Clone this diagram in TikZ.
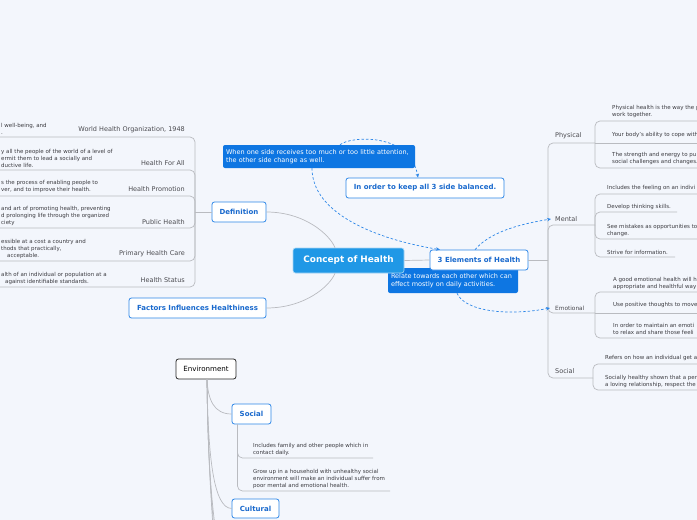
\documentclass[tikz,border=0pt]{standalone}
\usepackage{fontspec}
\setmainfont{DejaVu Sans}
\usetikzlibrary{arrows.meta,backgrounds}
\definecolor{bgblue}{RGB}{243,246,252}
\definecolor{mainblue}{RGB}{32,152,230}
\definecolor{noteblue}{RGB}{14,118,226}
\definecolor{topicblue}{RGB}{45,135,232}
\definecolor{topictext}{RGB}{25,105,205}
\definecolor{linegray}{RGB}{185,187,192}
\definecolor{subgray}{RGB}{75,75,80}
\definecolor{descgray}{RGB}{60,60,65}
\tikzset{
    topic/.style={draw=topicblue, fill=white, rounded corners=2.5pt, line width=0.8pt,
        text=topictext, font=\fontsize{7}{8}\selectfont\bfseries, inner sep=0pt},
    note/.style={fill=noteblue, rounded corners=2pt, text=white,
        font=\fontsize{6.5}{8}\selectfont, align=left, inner xsep=3pt, inner ysep=0pt},
    sublabel/.style={text=subgray, font=\fontsize{6.5}{7}\selectfont, inner sep=0pt},
    desc/.style={text=descgray, font=\fontsize{5.5}{7}\selectfont, align=left, inner sep=0pt},
    branch/.style={draw=linegray, line width=0.7pt, rounded corners=5pt},
    link/.style={draw=topicblue, line width=0.7pt, dash pattern=on 2.5pt off 2pt,
        -{Stealth[length=4pt,width=3.5pt]}},
}
\begin{document}
\begin{tikzpicture}[x=1pt,y=-1pt]
    \useasboundingbox (0,0) rectangle (697,520);
    \clip (0,0) rectangle (697,520);
    \begin{scope}[on background layer]
        \fill[bgblue] (0,0) rectangle (697,520);
    \end{scope}
    %
    % main topics
    \node[note, minimum width=192pt, minimum height=23pt, text width=186pt] (whennote) at (319,156.5)
        {When one side receives too much or too little attention,\\the other side change as well.};
    \node[note, minimum width=130pt, minimum height=25pt, text width=124pt] (relatenote) at (453,280.5)
        {Relate towards each other which can\\effect mostly on daily activities.};
    \node[topic, fill=mainblue, draw=white!60!mainblue, line width=0.6pt, text=white,
        font=\fontsize{8.9}{10}\selectfont\bfseries, minimum width=111pt, minimum height=25pt] (concept) at (348.5,260.5) {Concept of Health};
    \node[topic, minimum width=98pt, minimum height=20pt] (elements) at (479,260) {3 Elements of Health};
    \node[topic, minimum width=54pt, minimum height=20pt] (definition) at (239,212) {Definition};
    \node[topic, minimum width=137pt, minimum height=20pt] (factors) at (197.5,308) {Factors Influences Healthiness};
    \node[topic, minimum width=158pt, minimum height=20pt] (balanced) at (425,188) {In order to keep all 3 side balanced.};
    %
    \draw[branch] (definition.east) .. controls (305,212) and (330,235) .. ([xshift=-13.5pt]concept.north);
    \draw[branch] ([xshift=-13.5pt]concept.south) .. controls (330,286) and (305,308) .. (factors.east);
    \draw[branch] (concept.east) -- (elements.west);
    %
    % definition
    \coordinate (defj) at (195,212);
    \draw[branch] (definition.west) -- (defj);
    \foreach \y in {137,170,196,228,261,287}
        \draw[branch] (defj) |- (-5,\y);
    \node[sublabel, anchor=east] (who) at (185,130) {World Health Organization, 1948};
    \node[sublabel, anchor=east] (hfa) at (185,163) {Health For All};
    \node[sublabel, anchor=east] (hpromo) at (185,189) {Health Promotion};
    \node[sublabel, anchor=east] (phealth) at (185,222) {Public Health};
    \node[sublabel, anchor=east] (phcare) at (185,254) {Primary Health Care};
    \node[sublabel, anchor=east] (hstatus) at (185,280) {Health Status};
    \node[desc, anchor=west] (whod) at (1,128.5) {l well-being, and\\.};
    \node[desc, anchor=west] (hfad) at (1,158) {y all the people of the world of a level of\\ermit them to lead a socially and\\ductive life.};
    \node[desc, anchor=west] (hpromod) at (1,186.5) {s the process of enabling people to\\ver, and to improve their health.};
    \node[desc, anchor=west] (phealthd) at (1,216) {and art of promoting health, preventing\\d prolonging life through the organized\\ciety};
    \node[desc, anchor=west] (phcared) at (1,249) {essible at a cost a country and\\thods that practically,\\\hspace*{6pt}acceptable.};
    \node[desc, anchor=west] (hstatusd) at (1,278) {alth of an individual or population at a\\\hspace*{4pt}against identifiable standards.};
    %
    % 3 elements
    \coordinate (elj) at (548,260);
    \coordinate (physj) at (595,143);
    \coordinate (mentj) at (595,225);
    \coordinate (emoj) at (595,313);
    \coordinate (socj) at (593,378);
    \draw[branch] (elements.east) -- (elj);
    \foreach \j in {physj,mentj,emoj,socj}
        \draw[branch] (elj) |- (\j);
    \node[sublabel, anchor=west] (physical) at (555,136) {Physical};
    \node[sublabel, anchor=west] (mental) at (555,219) {Mental};
    \node[sublabel, anchor=west, font=\fontsize{5.8}{7}\selectfont] (emotional) at (555,308) {Emotional};
    \node[sublabel, anchor=west] (social) at (555,371) {Social};
    %
    \draw[branch] (physj) |- (702,121);
    \draw[branch] (physj) -- (702,143);
    \draw[branch] (physj) |- (702,168);
    \node[desc, anchor=west] (phys1) at (612,111.5) {Physical health is the way the p\\work together.};
    \node[desc, anchor=west] (phys2) at (612,135) {Your body's ability to cope with};
    \node[desc, anchor=west] (phys3) at (612,158.5) {The strength and energy to pu\\social challenges and changes.};
    %
    \draw[branch] (mentj) |- (702,194);
    \draw[branch] (mentj) |- (677,212);
    \draw[branch] (mentj) |- (702,239);
    \draw[branch] (mentj) |- (675,257);
    \node[desc, anchor=west] (ment1) at (607,188) {Includes the feeling on an indivi};
    \node[desc, anchor=west] (ment2) at (607,207) {Develop thinking skills.};
    \node[desc, anchor=west] (ment3) at (607,230) {See mistakes as opportunities to\\change.};
    \node[desc, anchor=west] (ment4) at (607,252) {Strive for information.};
    %
    \draw[branch] (emoj) |- (702,292);
    \draw[branch] (emoj) -- (702,313);
    \draw[branch] (emoj) |- (702,338);
    \node[desc, anchor=west] (emo1) at (613,283.5) {A good emotional health will h\\appropriate and healthful way};
    \node[desc, anchor=west] (emo2) at (613,305) {Use positive thoughts to move};
    \node[desc, anchor=west] (emo3) at (613,329) {In order to maintain an emoti\\to relax and share those feeli};
    %
    \draw[branch] (socj) |- (702,364);
    \draw[branch] (socj) |- (702,390);
    \node[desc, anchor=west] (soc1) at (605,358) {Refers on how an individual get a};
    \node[desc, anchor=west] (soc2) at (605,381) {Socially healthy shown that a pers\\a loving relationship, respect the};
    %
    % environment
    \node[topic, draw=black!85, text=black, font=\fontsize{7.1}{8}\selectfont, minimum width=60pt, minimum height=20pt] (environment) at (206,369) {Environment};
    \node[topic, minimum width=39pt, minimum height=20pt] (envsocial) at (251.5,414) {Social};
    \node[topic, minimum width=47pt, minimum height=19pt] (cultural) at (255.5,508.5) {Cultural};
    \coordinate (envlow1) at (234,600);
    \coordinate (envlow2) at (234,680);
    \coordinate (envlow3) at (234,760);
    \draw[branch] ([xshift=1pt]environment.south) .. controls (208,400) and (214,414) .. (envsocial.west);
    \draw[branch] ([xshift=1pt]environment.south) .. controls (208,460) and (214,508) .. (cultural.west);
    \foreach \c in {envlow1,envlow2,envlow3}
        \draw[branch] ([xshift=1pt]environment.south) .. controls (208,480) and (214,560) .. (\c);
    \draw[branch] ([xshift=-14pt]envsocial.south) |- (373,458);
    \draw[branch] ([xshift=-14pt]envsocial.south) |- (390,491);
    \node[desc, anchor=west] (family) at (253,449.5) {Includes family and other people which in\\contact daily.};
    \node[desc, anchor=west] (household) at (253,478.5) {Grow up in a household with unhealthy social\\environment will make an individual suffer from\\poor mental and emotional health.};
    %
    % dashed links
    \begin{scope}[on background layer]
        \draw[link] ([xshift=21pt]whennote.north) .. controls (350,136) and (410,132) .. ([xshift=-7pt]balanced.north);
    \end{scope}
    \draw[link] ([xshift=-7pt]whennote.south) .. controls (312,215) and (380,240) .. ([xshift=-39pt]elements.north);
    \draw[link] ([xshift=-4pt]elements.north) .. controls (490,232) and (520,224) .. ([xshift=-4pt]mental.west);
    \draw[link] ([xshift=4pt]relatenote.south) .. controls (465,312) and (510,316) .. ([xshift=-5pt]emotional.west);
\end{tikzpicture}
\end{document}
